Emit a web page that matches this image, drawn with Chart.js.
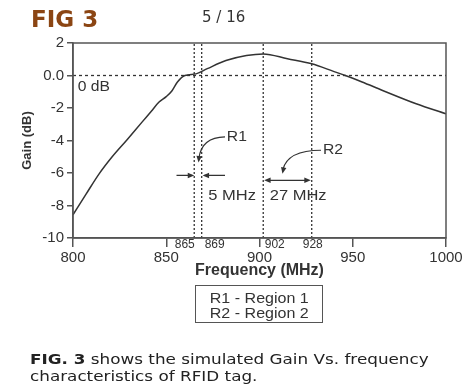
<!DOCTYPE html>
<html>
<head>
<meta charset="utf-8">
<script src="https://cdn.jsdelivr.net/npm/chart.js@4"></script>
<style>
  body { margin: 0; background: #fff; }
  #wrap { position: relative; width: 474px; height: 391px; overflow: hidden; }
  #wrap canvas { position: absolute; left: 0; top: 0; }
  .txt { position: absolute; white-space: nowrap; }
  #fig { left: 31px; top: 6px; font: bold 23px "DejaVu Sans", sans-serif; color: #8b4513; }
  #page { left: 202px; top: 8px; font: 15px "DejaVu Sans", sans-serif; color: #333; }
  #legendBox { left: 195px; top: 285px; width: 128px; height: 38px; border: 1.5px solid #555;
    font: 15px "Liberation Sans", Arial, sans-serif; color: #333; text-align: center; line-height: 15px; padding-top: 4px; box-sizing: border-box; }
  #legendBox span { display: inline-block; transform: scaleX(1.07); }
  #caption { left: 30px; top: 351px; font: 14px "DejaVu Sans", sans-serif; color: #222; line-height: 17px;
    transform: scaleX(1.2); transform-origin: left top; }
</style>
</head>
<body>
<div id="wrap">
  <canvas id="gainChart"></canvas>
  <div class="txt" id="fig">FIG 3</div>
  <div class="txt" id="page">5 / 16</div>
  <div class="txt" id="legendBox"><span>R1 - Region 1<br>R2 - Region 2</span></div>
  <div class="txt" id="caption"><b>FIG. 3</b> shows the simulated Gain Vs. frequency<br>characteristics of RFID tag.</div>
</div>
<script>
// datos
const freq = [800, 807, 814, 821, 829, 837, 842, 846, 850, 853, 856, 860, 866, 872, 882, 893, 902, 915, 928, 940, 946, 955, 966, 984, 1000];
const gain = [-8.57, -7.3, -6.05, -5.0, -3.95, -2.87, -2.2, -1.65, -1.3, -0.95, -0.4, 0.0, 0.1, 0.42, 0.92, 1.23, 1.33, 1.03, 0.72, 0.24, 0.0, -0.4, -0.92, -1.74, -2.36];
const regionFreqs = [865, 869, 902, 928];
const xTicks = [800, 850, 900, 950, 1000];
const yTicks = [-10, -8, -6, -4, -2, 0, 2];

const ctx = document.getElementById('gainChart');

const curve = freq.map((f, i) => ({ x: f, y: gain[i] }));

const datasets = [{
  data: curve,
  borderColor: '#333',
  borderWidth: 1.5,
  pointRadius: 0,
  cubicInterpolationMode: 'monotone'
}, {
  // linea de 0 dB
  data: [{ x: 800, y: 0 }, { x: 1000, y: 0 }],
  borderColor: '#333',
  borderWidth: 1.3,
  borderDash: [3, 3],
  pointRadius: 0
}];

regionFreqs.forEach(f => {
  datasets.push({
    data: [{ x: f, y: -10 }, { x: f, y: 2 }],
    borderColor: '#333',
    borderWidth: 1.3,
    borderDash: [2, 2],
    pointRadius: 0
  });
});

function arrowHead(c, x, y, ang, size) {
  c.beginPath();
  c.moveTo(x, y);
  c.lineTo(x - size * Math.cos(ang - 0.4), y - size * Math.sin(ang - 0.4));
  c.lineTo(x - size * Math.cos(ang + 0.4), y - size * Math.sin(ang + 0.4));
  c.closePath();
  c.fill();
}

// texto algo estirado como en la figura
function wideText(c, txt, x, y, sx) {
  c.save();
  c.translate(x, y);
  c.scale(sx, 1);
  c.fillText(txt, 0, 0);
  c.restore();
}

const extras = {
  id: 'extras',
  afterDatasetsDraw(chart) {
    const c = chart.ctx;
    const { left, top, right, bottom } = chart.chartArea;
    const xs = chart.scales.x, ys = chart.scales.y;
    const px = v => xs.getPixelForValue(v);
    const py = v => ys.getPixelForValue(v);

    c.save();
    // marco
    c.strokeStyle = '#555';
    c.lineWidth = 1.5;
    c.strokeRect(left, top, right - left, bottom - top);

    c.fillStyle = '#333';
    c.strokeStyle = '#333';
    c.lineWidth = 1.2;
    c.font = '14px "Liberation Sans", Arial, sans-serif';
    c.textBaseline = 'middle';
    c.textAlign = 'left';
    wideText(c, '0 dB', px(802.5), py(-0.7), 1.12);

    // R1
    wideText(c, 'R1', px(882.5), py(-3.8), 1.12);
    c.beginPath();
    c.moveTo(px(881.5), py(-3.78));
    c.quadraticCurveTo(px(869), py(-3.8), px(867.5), py(-5.1));
    c.stroke();
    arrowHead(c, px(867.3), py(-5.35), Math.PI / 2 + 0.1, 7);

    // R2
    wideText(c, 'R2', px(934), py(-4.6), 1.12);
    c.beginPath();
    c.moveTo(px(933), py(-4.6));
    c.quadraticCurveTo(px(915), py(-4.6), px(912.5), py(-5.8));
    c.stroke();
    arrowHead(c, px(912.3), py(-6.05), Math.PI / 2 + 0.2, 7);

    // flechas 5 MHz
    const yA = py(-6.15);
    c.beginPath();
    c.moveTo(px(855.5), yA); c.lineTo(px(864), yA);
    c.moveTo(px(881.5), yA); c.lineTo(px(870.5), yA);
    c.stroke();
    arrowHead(c, px(865), yA, 0, 7);
    arrowHead(c, px(869.5), yA, Math.PI, 7);

    // flecha 27 MHz
    const yB = py(-6.45);
    c.beginPath();
    c.moveTo(px(904), yB); c.lineTo(px(926), yB);
    c.stroke();
    arrowHead(c, px(902.5), yB, Math.PI, 7);
    arrowHead(c, px(927.5), yB, 0, 7);

    c.font = '15px "Liberation Sans", Arial, sans-serif';
    wideText(c, '5 MHz', px(872.5), py(-7.4), 1.1);
    wideText(c, '27 MHz', px(905.5), py(-7.4), 1.1);

    // etiquetas de las regiones
    c.font = '12px "Liberation Sans", Arial, sans-serif';
    const yL = bottom + 7;
    c.textAlign = 'right';
    c.fillText(regionFreqs[0], px(regionFreqs[0]) + 0.5, yL);
    c.textAlign = 'left';
    c.fillText(regionFreqs[1], px(regionFreqs[1]) + 3, yL);
    c.fillText(regionFreqs[2], px(regionFreqs[2]) + 1.5, yL);
    c.textAlign = 'center';
    c.fillText(regionFreqs[3], px(regionFreqs[3]) + 1, yL);
    c.restore();
  }
};

new Chart(ctx, {
  type: 'line',
  data: { datasets: datasets },
  plugins: [extras],
  options: {
    responsive: true,
    maintainAspectRatio: false,
    animation: false,
    layout: { padding: { left: 0, top: 43, right: 28, bottom: 111 } },
    plugins: { legend: { display: false }, tooltip: { enabled: false } },
    scales: {
      x: {
        type: 'linear',
        min: 800,
        max: 1000,
        afterFit(axis) { axis.height = 42; },
        afterBuildTicks(axis) { axis.ticks = xTicks.map(v => ({ value: v })); },
        grid: { display: true, drawOnChartArea: false, drawTicks: true, tickLength: 9, color: '#555', lineWidth: 1.5 },
        border: { display: true, color: '#555', width: 1.5 },
        ticks: {
          color: '#333',
          padding: 2,
          maxRotation: 0,
          font: { family: '"Liberation Sans", Arial, sans-serif', size: 15 },
          callback: v => String(v)
        },
        title: { display: true, text: 'Frequency (MHz)', color: '#333', padding: 0, font: { family: '"Liberation Sans", Arial, sans-serif', size: 16, weight: 'bold' } }
      },
      y: {
        type: 'linear',
        min: -10,
        max: 2,
        afterFit(axis) { axis.width = 73; },
        afterBuildTicks(axis) { axis.ticks = yTicks.map(v => ({ value: v })); },
        grid: { display: true, drawOnChartArea: false, drawTicks: true, tickLength: 6, color: '#555', lineWidth: 1.5 },
        border: { display: true, color: '#555', width: 1.5 },
        ticks: {
          color: '#333',
          padding: 3,
          font: { family: '"Liberation Sans", Arial, sans-serif', size: 15 },
          callback: v => (v === 0 ? '0.0' : String(v))
        },
        title: { display: true, text: 'Gain (dB)', color: '#333', padding: { top: 20, bottom: 0 }, font: { family: '"Liberation Sans", Arial, sans-serif', size: 13, weight: 'bold' } }
      }
    }
  }
});
</script>
</body>
</html>
